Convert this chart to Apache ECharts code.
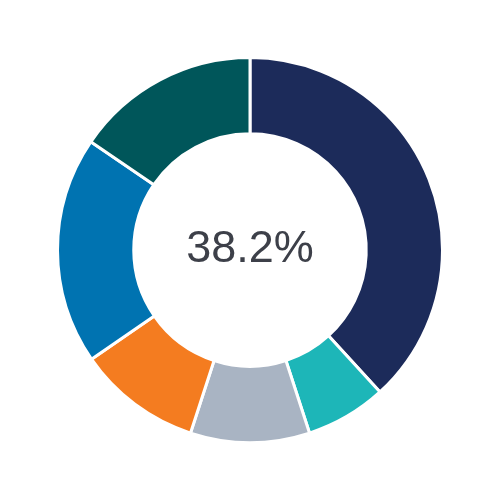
<!DOCTYPE html>
<html lang="en">
<head>
    <meta charset="UTF-8">
    <title>Donut</title>
    <script src="https://cdn.jsdelivr.net/npm/echarts@6/dist/echarts.min.js"></script>
    <style>
        html, body { margin: 0; padding: 0; background: #fff; }
    </style>
</head>
<body>
<div id="main" style="width: 500px;height:500px;"></div>
<script type="text/javascript">
    // slice data, clockwise from 12 o'clock
    var names = ['A', 'B', 'C', 'D', 'E', 'F'];
    var values = [38.2, 6.8, 10.0, 10.4, 19.1, 15.5];
    var colors = ['#1c2b5a', '#1db6b8', '#a9b4c3', '#f47c20', '#0073b1', '#00565a'];
    var centerLabel = '38.2%';

    var data = [];
    for (var i = 0; i < values.length; i++) {
        data.push({ name: names[i], value: values[i], itemStyle: { color: colors[i] } });
    }

    var myChart = echarts.init(document.getElementById('main'));
    myChart.setOption({
        animation: false,
        graphic: [{
            type: 'text',
            left: 'center',
            top: 'middle',
            style: {
                text: centerLabel,
                fontSize: 45,
                fontFamily: 'Liberation Sans, Arial, sans-serif',
                fill: '#3d4049'
            }
        }],
        series: [{
            type: 'pie',
            radius: ['46.5%', '77%'],
            center: ['50%', '50%'],
            startAngle: 90,
            clockwise: true,
            label: { show: false },
            labelLine: { show: false },
            emphasis: { disabled: true },
            itemStyle: { borderColor: '#fff', borderWidth: 3 },
            data: data
        }]
    });
</script>
</body>
</html>
